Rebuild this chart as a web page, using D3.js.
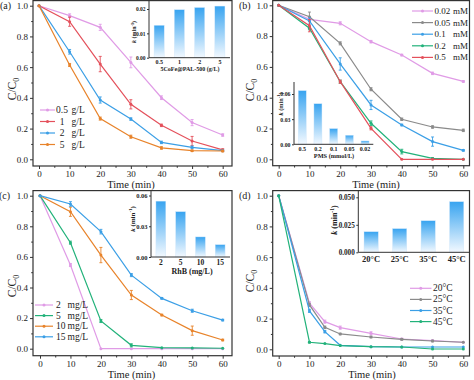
<!DOCTYPE html>
<html><head><meta charset="utf-8">
<script src="https://cdn.jsdelivr.net/npm/d3@7"></script>
<style>body{margin:0;background:#fff}svg{display:block}text{font-family:"Liberation Serif","Times New Roman",serif;fill:#222}</style>
</head><body><svg id="c" width="474" height="380"></svg>
<script>
// ---------- DATA ----------
const timeStd = [0, 10, 20, 30, 40, 50, 60];
const timeD = [0, 10, 15, 20, 30, 40, 50, 60];
const xTicks = [0, 10, 20, 30, 40, 50, 60];
const xMinor = [5, 15, 25, 35, 45, 55];
const yTicks = [0, 0.2, 0.4, 0.6, 0.8, 1.0];
const yMinor = [0.1, 0.3, 0.5, 0.7, 0.9];

// (a) catalyst dosage
const aLabels = ["0.5", "1", "2", "5"];
const aDose05 = [1, 0.935, 0.859, 0.631, 0.401, 0.239, 0.158];
const aDose1  = [1, 0.896, 0.620, 0.358, 0.221, 0.119, 0.061];
const aDose2  = [1, 0.700, 0.386, 0.262, 0.110, 0.078, 0.056];
const aDose5  = [1, 0.614, 0.265, 0.147, 0.074, 0.056, 0.054];
const aErr05 = [0, 0.012, 0.02, 0.035, 0.012, 0.02, 0.008];
const aErr1  = [0, 0.03, 0.05, 0.03, 0.008, 0.03, 0.008];
const aErr2  = [0, 0.015, 0.02, 0.008, 0.008, 0.008, 0.005];
const aErr5  = [0, 0.01, 0.01, 0.01, 0.008, 0.005, 0.005];
const aInsetCats = ["0.5", "1", "2", "5"];
const aInsetK = [0.0133, 0.0197, 0.0206, 0.0212];
const aInsetTicks = [0, 0.01, 0.02];

// (b) PMS concentration
const bLabels = ["0.02", "0.05", "0.1", "0.2", "0.5"];
const bP002 = [1, 0.909, 0.883, 0.764, 0.677, 0.558, 0.506];
const bP005 = [1, 0.926, 0.753, 0.455, 0.260, 0.210, 0.188];
const bP01  = [1, 0.898, 0.619, 0.353, 0.223, 0.115, 0.058];
const bP02  = [1, 0.851, 0.504, 0.234, 0.050, 0.006, 0.000];
const bP05  = [1, 0.868, 0.504, 0.201, 0.000, 0.000, 0.000];
const bErr002 = [0, 0.01, 0.01, 0.008, 0.005, 0.008, 0.005];
const bErr005 = [0, 0.03, 0.01, 0.01, 0.008, 0.008, 0.008];
const bErr01  = [0, 0.02, 0.04, 0.03, 0.005, 0.03, 0.005];
const bErr02  = [0, 0.01, 0.01, 0.015, 0.015, 0.005, 0];
const bErr05  = [0, 0.04, 0.01, 0.01, 0, 0, 0];
const bInsetCats = ["0.5", "0.2", "0.1", "0.05", "0.02"];
const bInsetK = [0.064, 0.0484, 0.0187, 0.0108, 0.004];
const bInsetTicks = [0, 0.03, 0.06];

// (c) RhB concentration
const cLabels = ["2", "5", "10", "15"];
const cR2  = [1, 0.547, 0.000, 0.000, 0.000, 0.000, 0.000];
const cR5  = [1, 0.693, 0.181, 0.022, 0.007, 0.005, 0.003];
const cR10 = [1, 0.895, 0.612, 0.351, 0.220, 0.118, 0.057];
const cR15 = [1, 0.946, 0.765, 0.481, 0.329, 0.248, 0.187];
const cErr2  = [0, 0.01, 0, 0, 0, 0, 0];
const cErr5  = [0, 0.01, 0.01, 0.01, 0, 0, 0];
const cErr10 = [0, 0.03, 0.05, 0.03, 0.005, 0.03, 0.005];
const cErr15 = [0, 0.015, 0.015, 0.01, 0.005, 0.01, 0.005];
const cInsetCats = ["2", "5", "10", "15"];
const cInsetK = [0.0545, 0.0442, 0.0196, 0.0120];
const cInsetTicks = [0, 0.03, 0.06];

// (d) temperature
const dLabels = ["20°C", "25°C", "35°C", "45°C"];
const dT20 = [1, 0.300, 0.180, 0.141, 0.104, 0.067, 0.056, 0.046];
const dT25 = [1, 0.289, 0.143, 0.100, 0.080, 0.065, 0.054, 0.046];
const dT35 = [1, 0.250, 0.115, 0.026, 0.017, 0.015, 0.015, 0.015];
const dT45 = [1, 0.046, 0.037, 0.024, 0.017, 0.015, 0.002, 0.002];
const dErr20 = [0, 0.01, 0.01, 0.01, 0.01, 0.005, 0.005, 0.003];
const dErr25 = [0, 0.01, 0.008, 0.005, 0.005, 0.005, 0.005, 0.003];
const dErr35 = [0, 0.01, 0.008, 0.003, 0.003, 0.003, 0.003, 0.003];
const dErr45 = [0, 0.005, 0.003, 0.003, 0.003, 0.003, 0.003, 0.003];
const dInsetCats = ["20°C", "25°C", "35°C", "45°C"];
const dInsetK = [0.0187, 0.0215, 0.0287, 0.046];
const dInsetTicks = [0, 0.025, 0.05];

// colours
const cViolet = "#e09be6", cRed = "#e4505b", cBlue = "#3b9fe6", cOrange = "#e8832a",
      cGray = "#8a8a8a", cGreen = "#22b27a";

// ---------- DRAWING ----------
const svg = d3.select("#c");
const defs = svg.append("defs");
const grad = defs.append("linearGradient").attr("id", "barGrad")
  .attr("x1", 0).attr("y1", 0).attr("x2", 0).attr("y2", 1);
grad.append("stop").attr("offset", "0%").attr("stop-color", "#38a4f0");
grad.append("stop").attr("offset", "100%").attr("stop-color", "#f3f9ff");

function styleAxis(sel, fs) {
  sel.select(".domain").remove();
  sel.selectAll("line").attr("stroke", "#333").attr("stroke-width", 1);
  sel.selectAll("text").attr("font-family", "Liberation Serif").attr("font-size", fs).attr("fill", "#222");
  sel.attr("font-family", null);
}

function panel(cfg) {
  const g = svg.append("g");
  const x = d3.scaleLinear().domain([0, 60]).range([cfg.x0, cfg.x60]);
  const y = d3.scaleLinear().domain([0, 1]).range([cfg.y0, cfg.y1]);

  const xa = g.append("g").attr("transform", `translate(0,${cfg.fb})`)
    .call(d3.axisBottom(x).tickValues(xTicks).tickSize(3).tickPadding(1.5).tickFormat(d3.format("d")));
  styleAxis(xa, 9);
  const xm = g.append("g").attr("transform", `translate(0,${cfg.fb})`)
    .call(d3.axisBottom(x).tickValues(xMinor).tickSize(1.8).tickFormat(""));
  styleAxis(xm, 9);
  const ya = g.append("g").attr("transform", `translate(${cfg.fl},0)`)
    .call(d3.axisLeft(y).tickValues(yTicks).tickSize(3).tickPadding(2).tickFormat(d3.format(".1f")));
  styleAxis(ya, 9);
  const ym = g.append("g").attr("transform", `translate(${cfg.fl},0)`)
    .call(d3.axisLeft(y).tickValues(yMinor).tickSize(1.8).tickFormat(""));
  styleAxis(ym, 9);

  g.append("rect").attr("x", cfg.fl).attr("y", cfg.ft)
    .attr("width", cfg.fr - cfg.fl).attr("height", cfg.fb - cfg.ft)
    .attr("fill", "none").attr("stroke", "#333").attr("stroke-width", 1.2);

  g.append("text").attr("x", cfg.xtX).attr("y", cfg.xtY).attr("text-anchor", "middle")
    .attr("font-size", 10.5).text("Time (min)");
  const yt = g.append("text").attr("transform", `translate(${cfg.ytX},${cfg.ytY}) rotate(-90)`)
    .attr("text-anchor", "middle").attr("font-size", 11.5);
  yt.append("tspan").text("C/C");
  yt.append("tspan").attr("font-size", 8).attr("dy", 3).text("0");
  g.append("text").attr("x", cfg.plX).attr("y", cfg.plY).attr("font-size", 10).text(cfg.pl);

  const line = d3.line().x((d, i) => x(cfg.times[i])).y(d => y(d));
  cfg.series.forEach(s => {
    const sg = g.append("g");
    sg.append("path").datum(s.v).attr("d", line).attr("fill", "none")
      .attr("stroke", s.c).attr("stroke-width", 1.2);
    s.v.forEach((v, i) => {
      const e = s.e[i];
      if (e > 0.004) {
        const px = x(cfg.times[i]);
        sg.append("line").attr("x1", px).attr("x2", px).attr("y1", y(v - e)).attr("y2", y(v + e))
          .attr("stroke", s.c).attr("stroke-width", 0.9);
        [v - e, v + e].forEach(w => sg.append("line").attr("x1", px - 1.5).attr("x2", px + 1.5)
          .attr("y1", y(w)).attr("y2", y(w)).attr("stroke", s.c).attr("stroke-width", 0.9));
      }
    });
    sg.selectAll("circle").data(s.v).join("circle")
      .attr("cx", (d, i) => x(cfg.times[i])).attr("cy", d => y(d)).attr("r", 1.5).attr("fill", s.c);
  });

  const L = cfg.legend;
  cfg.series.forEach((s, i) => {
    const ly = L.y + i * L.dy;
    g.append("line").attr("x1", L.x1).attr("x2", L.x2).attr("y1", ly).attr("y2", ly)
      .attr("stroke", s.c).attr("stroke-width", 1.2);
    g.append("circle").attr("cx", (L.x1 + L.x2) / 2).attr("cy", ly).attr("r", 1.5).attr("fill", s.c);
    g.append("text").attr("x", L.tx).attr("y", ly + 3).attr("font-size", L.fs)
      .attr("text-anchor", L.anchor || "start").text(s.name);
    if (L.unit) g.append("text").attr("x", L.ux).attr("y", ly + 3).attr("font-size", L.fs).text(L.unit);
  });
}

function inset(cfg) {
  const g = svg.append("g");
  const xb = d3.scaleBand().domain(cfg.cats).range([cfg.l, cfg.r]).paddingInner(cfg.pi).paddingOuter(cfg.po);
  const yk = d3.scaleLinear().domain([0, cfg.tmax]).range([cfg.b, cfg.tmaxPx]);
  g.selectAll("rect").data(cfg.k).join("rect")
    .attr("x", (d, i) => xb(cfg.cats[i])).attr("width", xb.bandwidth())
    .attr("y", d => yk(d)).attr("height", d => cfg.b - yk(d))
    .attr("fill", "url(#barGrad)").attr("stroke", "#cfe6fa").attr("stroke-width", 0.4);
  g.append("line").attr("x1", cfg.l).attr("x2", cfg.l).attr("y1", cfg.top).attr("y2", cfg.b)
    .attr("stroke", "#333").attr("stroke-width", 1);
  g.append("line").attr("x1", cfg.l).attr("x2", cfg.r).attr("y1", cfg.b).attr("y2", cfg.b)
    .attr("stroke", "#333").attr("stroke-width", 1);
  const ya = g.append("g").attr("transform", `translate(${cfg.l},0)`)
    .call(d3.axisLeft(yk).tickValues(cfg.ticks).tickSize(2).tickPadding(1.5).tickFormat(d3.format(cfg.fmt)));
  styleAxis(ya, cfg.tfs);
  ya.selectAll("text").attr("font-weight", "bold");
  const xa = g.append("g").attr("transform", `translate(0,${cfg.b})`)
    .call(d3.axisBottom(xb).tickSize(0).tickPadding(cfg.xpad));
  styleAxis(xa, cfg.xfs);
  xa.selectAll("text").attr("font-weight", "bold");
  if (cfg.xt) g.append("text").attr("x", cfg.xtX).attr("y", cfg.xtY).attr("text-anchor", "middle")
    .attr("font-size", cfg.xtfs).attr("font-weight", "bold").text(cfg.xt);
  const yt = g.append("text").attr("transform", `translate(${cfg.ytX},${cfg.ytY}) rotate(-90)`)
    .attr("text-anchor", "middle").attr("font-size", cfg.ytfs).attr("font-weight", "bold");
  yt.append("tspan").attr("font-style", "italic").text("k");
  yt.append("tspan").text(" (min");
  yt.append("tspan").attr("font-size", cfg.ytfs * 0.7).attr("dy", -cfg.ytfs * 0.4).text("-1");
  yt.append("tspan").attr("dy", cfg.ytfs * 0.4).text(")");
}

// Panel (a)
panel({
  fl: 33, fr: 232, ft: 0.6, fb: 166, x0: 39, x60: 222.7, y0: 159.3, y1: 5.7,
  xtX: 131, xtY: 188, ytX: 16, ytY: 89, pl: "(a)", plX: 0, plY: 9, times: timeStd,
  series: [
    { name: aLabels[0], v: aDose05, e: aErr05, c: cViolet },
    { name: aLabels[1], v: aDose1, e: aErr1, c: cRed },
    { name: aLabels[2], v: aDose2, e: aErr2, c: cBlue },
    { name: aLabels[3], v: aDose5, e: aErr5, c: cOrange }
  ],
  legend: { x1: 40, x2: 55, y: 110, dy: 11.5, tx: 62, anchor: "middle", ux: 71.5, unit: "g/L", fs: 9.5 }
});
inset({
  cats: aInsetCats, k: aInsetK, l: 149, r: 230, pi: 0.5, po: 0.25, b: 57.7, tmax: 0.02, tmaxPx: 9,
  top: 0.6, ticks: aInsetTicks, fmt: ".2f", tfs: 5.5, xfs: 6, xpad: 2.5,
  xt: "5CoFe@PAL-500 (g/L)", xtX: 190, xtY: 71, xtfs: 6, ytX: 136, ytY: 32, ytfs: 6
});

// Panel (b)
panel({
  fl: 272.7, fr: 469.5, ft: 0.6, fb: 165.7, x0: 278.7, x60: 463.3, y0: 159.3, y1: 5.3,
  xtX: 376, xtY: 188, ytX: 254, ytY: 90, pl: "(b)", plX: 239, plY: 9, times: timeStd,
  series: [
    { name: bLabels[0], v: bP002, e: bErr002, c: cViolet },
    { name: bLabels[1], v: bP005, e: bErr005, c: cGray },
    { name: bLabels[2], v: bP01, e: bErr01, c: cBlue },
    { name: bLabels[3], v: bP02, e: bErr02, c: cGreen },
    { name: bLabels[4], v: bP05, e: bErr05, c: cRed }
  ],
  legend: { x1: 412, x2: 433, y: 11, dy: 11.6, tx: 434.5, ux: 453, unit: "mM", fs: 9 }
});
inset({
  cats: bInsetCats, k: bInsetK, l: 294, r: 373.3, pi: 0.49, po: 0.27, b: 144.3, tmax: 0.06, tmaxPx: 94,
  top: 82, ticks: bInsetTicks, fmt: ".2f", tfs: 5.8, xfs: 6, xpad: 2.5,
  xt: "PMS (mmol/L)", xtX: 334, xtY: 158, xtfs: 6.3, ytX: 283, ytY: 104, ytfs: 6.3
});

// Panel (c)
panel({
  fl: 33, fr: 232, ft: 190.6, fb: 355.7, x0: 40, x60: 222.7, y0: 348.7, y1: 195.7,
  xtX: 131.5, xtY: 377.5, ytX: 16, ytY: 286, pl: "(c)", plX: -1, plY: 199, times: timeStd,
  series: [
    { name: cLabels[0], v: cR2, e: cErr2, c: cViolet },
    { name: cLabels[1], v: cR5, e: cErr5, c: cGreen },
    { name: cLabels[2], v: cR10, e: cErr10, c: cOrange },
    { name: cLabels[3], v: cR15, e: cErr15, c: cBlue }
  ],
  legend: { x1: 35, x2: 53, y: 305, dy: 10.6, tx: 56, ux: 67.5, unit: "mg/L", fs: 9.5 }
});
inset({
  cats: cInsetCats, k: cInsetK, l: 151, r: 230, pi: 0.5, po: 0.25, b: 257, tmax: 0.06, tmaxPx: 195.5,
  top: 190.6, ticks: cInsetTicks, fmt: ".2f", tfs: 6.5, xfs: 7.5, xpad: 3,
  xt: "RhB (mg/L)", xtX: 192, xtY: 274, xtfs: 8, ytX: 135, ytY: 219, ytfs: 7
});

// Panel (d)
panel({
  fl: 272.7, fr: 469.5, ft: 190.6, fb: 356, x0: 278.7, x60: 463.3, y0: 349.3, y1: 195.7,
  xtX: 372, xtY: 378, ytX: 254, ytY: 281, pl: "(d)", plX: 239, plY: 199, times: timeD,
  series: [
    { name: dLabels[0], v: dT20, e: dErr20, c: cViolet },
    { name: dLabels[1], v: dT25, e: dErr25, c: cGray },
    { name: dLabels[2], v: dT35, e: dErr35, c: cBlue },
    { name: dLabels[3], v: dT45, e: dErr45, c: cGreen }
  ],
  legend: { x1: 410, x2: 431.5, y: 288.3, dy: 11.1, tx: 433, fs: 9.5 }
});
inset({
  cats: dInsetCats, k: dInsetK, l: 358.3, r: 469.5, pi: 0.5, po: 0.2, b: 252.3, tmax: 0.05, tmaxPx: 197.3,
  top: 190.6, ticks: dInsetTicks, fmt: ".3f", tfs: 7.2, xfs: 8.5, xpad: 4,
  xt: null, ytX: 337, ytY: 220, ytfs: 8
});
</script></body></html>
